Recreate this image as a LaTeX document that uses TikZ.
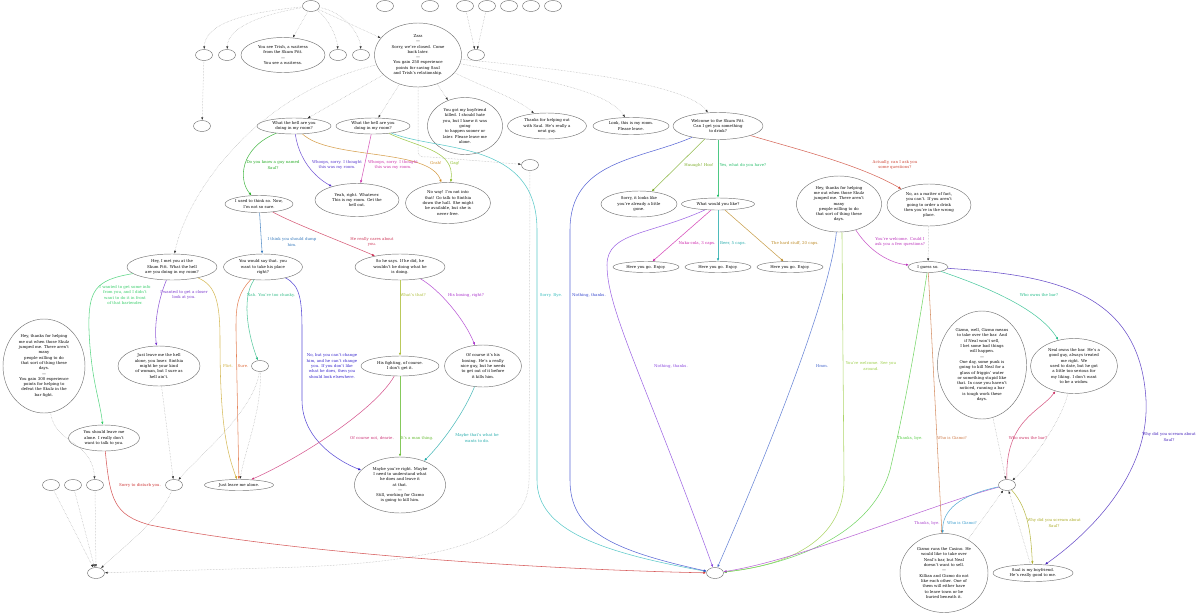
\documentclass[tikz,border=0pt]{standalone}
\usepackage{fontspec}
\setmainfont{DejaVu Serif}
\usetikzlibrary{shapes.geometric,arrows.meta}
\newcommand\nf{\fontsize{3.95}{5.3}\selectfont}
\definecolor{cSaul}{HTML}{22AA22}
\definecolor{cWhA}{HTML}{5533CC}
\definecolor{cWhB}{HTML}{CC33AA}
\definecolor{cGrah}{HTML}{CC8822}
\definecolor{cGag}{HTML}{88BB22}
\definecolor{cBye}{HTML}{33BBBB}
\definecolor{cNoth}{HTML}{3344CC}
\definecolor{cHuu}{HTML}{77AA22}
\definecolor{cYes}{HTML}{22BB66}
\definecolor{cAct}{HTML}{CC4433}
\definecolor{cNuka}{HTML}{CC22AA}
\definecolor{cBeer}{HTML}{22AAAA}
\definecolor{cHard}{HTML}{BB8822}
\definecolor{cNothP}{HTML}{8844DD}
\definecolor{cHmm}{HTML}{4466CC}
\definecolor{cWelc}{HTML}{99CC44}
\definecolor{cCould}{HTML}{BB33BB}
\definecolor{cTbG}{HTML}{55CC44}
\definecolor{cGizB}{HTML}{CC7744}
\definecolor{cOwnT}{HTML}{22BB88}
\definecolor{cScrI}{HTML}{4422BB}
\definecolor{cTbP}{HTML}{AA44CC}
\definecolor{cGizL}{HTML}{3399CC}
\definecolor{cScrO}{HTML}{AAAA22}
\definecolor{cOwnC}{HTML}{CC3366}
\definecolor{cDump}{HTML}{3377BB}
\definecolor{cCare}{HTML}{CC3355}
\definecolor{cChunk}{HTML}{33BB88}
\definecolor{cSure}{HTML}{DD6633}
\definecolor{cNoBut}{HTML}{3322CC}
\definecolor{cInfo}{HTML}{33CC66}
\definecolor{cClose}{HTML}{7733CC}
\definecolor{cFlirt}{HTML}{CCAA33}
\definecolor{cWhat}{HTML}{AABB33}
\definecolor{cBox}{HTML}{AA33CC}
\definecolor{cDear}{HTML}{CC3377}
\definecolor{cMan}{HTML}{66BB33}
\definecolor{cMaybe}{HTML}{22AAAA}
\definecolor{cDist}{HTML}{CC3333}
\begin{document}
\begin{tikzpicture}[x=1pt,y=-1pt,
  st/.style={ellipse,draw=black!55,line width=0.45pt,inner sep=0pt,align=center,font=\nf},
  sm/.style={st,minimum width=17pt,minimum height=11pt},
  dt/.style={draw=black!30,densely dotted,line width=0.5pt,-{Latex[length=3pt,width=2.2pt,color=black!80]}},
  ed/.style={draw=#1!80,line width=0.55pt,-{Latex[length=3pt,width=2.4pt,color=#1]}},
  lb/.style={font=\nf,align=center,inner sep=0pt}]
\useasboundingbox (0,0) rectangle (1200,614);
% top row
\node[sm] (top) at (311,6) {};
\node[sm] (t2) at (385,6) {};
\node[sm] (t3) at (430,6) {};
\node[sm] (t4) at (465,6) {};
\node[sm] (t5) at (487,6) {};
\node[sm] (t6) at (509,6) {};
\node[sm] (t7) at (531,6) {};
\node[sm] (t8) at (553,6) {};
% row 55
\node[sm] (s1) at (204,55) {};
\node[sm] (s2) at (227,55) {};
\node[st,minimum width=84pt,minimum height=35pt] (trish) at (283,55) {You see Trish, a waitress\\from the Skum Pitt.\\—\\You see a waitress.};
\node[sm] (s3) at (338,55) {};
\node[sm] (s4) at (361,55) {};
\node[st,minimum width=87pt,minimum height=64pt] (zzzz) at (418,55) {Zzzz\\—\\Sorry, we're closed. Come\\back later.\\—\\You gain 250 experience\\points for saving Saul\\and Trish's relationship.};
\node[sm] (s6) at (476,55) {};
\node[sm] (s5) at (202,126) {};
% row 126
\node[st,minimum width=74pt,minimum height=16pt] (wh1) at (294,126) {What the hell are you\\doing in my room?};
\node[st,minimum width=74pt,minimum height=16pt] (wh2) at (373,126) {What the hell are you\\doing in my room?};
\node[st,minimum width=75pt,minimum height=57pt] (got) at (465,126) {You got my boyfriend\\killed. I should hate\\you, but I knew it was\\going\\to happen sooner or\\later. Please leave me\\alone.};
\node[st,minimum width=79pt,minimum height=26pt] (thx) at (547,126) {Thanks for helping out\\with Saul. He's really a\\neat guy.};
\node[st,minimum width=76pt,minimum height=17pt] (look) at (631,126) {Look, this is my room.\\Please leave.};
\node[st,minimum width=90pt,minimum height=27pt] (welcome) at (718,126) {Welcome to the Skum Pitt.\\Can I get you something\\to drink?};
\node[sm] (s7) at (530,165) {};
% row 204
\node[st,minimum width=68pt,minimum height=17pt] (used) at (259,204) {I used to think so. Now,\\I'm not so sure.};
\node[st,minimum width=84pt,minimum height=33pt] (yeah) at (357,200) {Yeah, right. Whatever.\\This is my room. Get the\\hell out.};
\node[st,minimum width=85pt,minimum height=41pt] (noway) at (448,203) {No way! I'm not into\\that! Go talk to Sinthia\\down the hall. She might\\be available, but she is\\never free.};
\node[st,minimum width=76pt,minimum height=26pt] (gone) at (639,204) {Sorry, it looks like\\you're already a little\\gone.};
\node[st,minimum width=73pt,minimum height=12pt] (wwyl) at (718,204) {What would you like?};
\node[st,minimum width=85pt,minimum height=56pt] (heyR) at (839,204) {Hey, thanks for helping\\me out when those Skulz\\jumped me. There aren't\\many\\people willing to do\\that sort of thing these\\days.};
\node[st,minimum width=84pt,minimum height=42pt] (nomatter) at (929,205) {No, as a matter of fact,\\you can't. If you aren't\\going to order a drink\\then you're in the wrong\\place.};
% row 267
\node[st,minimum width=90pt,minimum height=26pt] (hey) at (172,267) {Hey, I met you at the\\Skum Pitt. What the hell\\are you doing in my room?};
\node[st,minimum width=79pt,minimum height=26pt] (wys) at (263,267) {You would say that. you\\want to take his place\\right?};
\node[st,minimum width=90pt,minimum height=26pt] (sohe) at (400,267) {So he says. If he did, he\\wouldn't be doing what he\\is doing.};
\node[st,minimum width=66pt,minimum height=11pt] (here1) at (646,267) {Here you go. Enjoy.};
\node[st,minimum width=66pt,minimum height=11pt] (here2) at (718,267) {Here you go. Enjoy.};
\node[st,minimum width=66pt,minimum height=11pt] (here3) at (790,267) {Here you go. Enjoy.};
\node[st,minimum width=40pt,minimum height=11pt] (guess) at (928,267) {I guess so.};
% row 366
\node[st,minimum width=82pt,minimum height=94pt] (heyL) at (44,366) {Hey, thanks for helping\\me out when those Skulz\\jumped me. There aren't\\many\\people willing to do\\that sort of thing these\\days.\\—\\You gain 300 experience\\points for helping to\\defeat the Skulz in the\\bar fight.};
\node[st,minimum width=82pt,minimum height=40pt] (hellalone) at (159,366) {Just leave me the hell\\alone, you loser. Sinthia\\might be your kind\\of woman, but I sure as\\hell ain't.};
\node[sm] (s8) at (260,366) {};
\node[st,minimum width=78pt,minimum height=20pt] (hisfight) at (400,366) {His fighting, of course.\\I don't get it.};
\node[st,minimum width=77pt,minimum height=42pt] (ofcourse) at (483,366) {Of course it's his\\boxing. He's a really\\nice guy, but he needs\\to get out of it before\\it kills him.};
\node[st,minimum width=89pt,minimum height=108pt] (gizwell) at (982,365) {Gizmo, well, Gizmo means\\to take over the bar. And\\if Neal won't sell,\\I bet some bad things\\will happen.\\—\\One day, some punk is\\going to kill Neal for a\\glass of friggin' water\\or something stupid like\\that. In case you haven't\\noticed, running a bar\\is tough work these\\days.};
\node[st,minimum width=87pt,minimum height=55pt] (neal) at (1074,366) {Neal owns the bar. He's a\\good guy, always treated\\me right. We\\used to date, but he got\\a little too serious for\\my liking. I don't want\\to be a widow.};
% row 438-485
\node[st,minimum width=71pt,minimum height=26pt] (shouldleave) at (104,438) {You should leave me\\alone. I really don't\\want to talk to you.};
\node[sm] (b1) at (51,485) {};
\node[sm] (b2) at (73,485) {};
\node[sm] (b3) at (95,485) {};
\node[sm] (b4) at (174,485) {};
\node[st,minimum width=69pt,minimum height=11pt] (jla) at (239,485) {Just leave me alone.};
\node[st,minimum width=91pt,minimum height=56pt] (maybe) at (400,485) {Maybe you're right. Maybe\\I need to understand what\\he does and leave it\\at that.\\—\\Still, working for Gizmo\\is going to kill him.};
\node[sm] (s9) at (1007,485) {};
% bottom
\node[sm] (bl) at (96,573) {};
\node[sm] (endn) at (715,573) {};
\node[st,minimum width=88pt,minimum height=79pt] (gizruns) at (944,573) {Gizmo runs the Casino. He\\would like to take over\\Neal's bar, but Neal\\doesn't want to sell.\\—\\Killian and Gizmo do not\\like each other. One of\\them will either have\\to leave town or be\\buried beneath it.};
\node[st,minimum width=80pt,minimum height=17pt] (saul) at (1033,573) {Saul is my boyfriend.\\He's really good to me.};

% dotted edges
\draw[dt] (top) .. controls (250,12) and (205,22) .. (s1);
\draw[dt] (top) .. controls (265,14) and (228,26) .. (s2);
\draw[dt] (top) -- (trish);
\draw[dt] (top) .. controls (326,16) and (337,35) .. (s3);
\draw[dt] (top) .. controls (345,12) and (360,35) .. (s4);
\draw[dt] (top) -- (zzzz);
\draw[dt] (s1) -- (s5);
\draw[dt] (t4) -- (s6);
\draw[dt] (t5) -- (s6);
\draw[dt] (zzzz) .. controls (250,95) and (185,200) .. (hey);
\draw[dt] (zzzz) -- (wh1);
\draw[dt] (zzzz) -- (wh2);
\draw[dt] (zzzz) -- (got);
\draw[dt] (zzzz) .. controls (490,90) and (520,100) .. (thx);
\draw[dt] (zzzz) .. controls (530,78) and (605,88) .. (look);
\draw[dt] (zzzz) .. controls (550,68) and (685,82) .. (welcome);
\draw[dt] (zzzz) -- (418,145) .. controls (418,157) .. (430,157) -- (s7);
\draw[dt] (s7) -- (529,480) .. controls (529,545) and (420,562) .. (300,567) -- (bl);
\draw[dt] (heyL) .. controls (55,445) and (92,440) .. (b3);
\draw[dt] (b1) -- (bl);
\draw[dt] (b2) -- (bl);
\draw[dt] (b3) -- (bl);
\draw[dt] (hellalone) -- (b4);
\draw[dt] (b4) .. controls (160,520) and (120,550) .. (bl);
\draw[dt] (s8) .. controls (255,410) and (200,455) .. (b4);
\draw[dt] (s8) .. controls (262,410) and (245,450) .. (jla);
\draw[dt] (nomatter) -- (guess);
\draw[dt] (gizwell) -- (s9);
\draw[dt] (neal) .. controls (1062,420) and (1030,465) .. (s9);
\draw[dt] (gizruns) -- (s9);
\draw[dt] (saul) -- (s9);

% colored edges
\draw[ed=cSaul] (wh1) .. controls (240,148) and (238,180) .. (used);
\node[lb,text=cSaul] (l1) at (273,165) {Do you know a guy named\\Saul?};
\draw[ed=cWhA] (wh1) .. controls (300,165) and (320,180) .. (yeah);
\node[lb,text=cWhA] (l2) at (337,165) {Whoops, sorry. I thought\\this was my room.};
\draw[ed=cGrah] (wh1) .. controls (330,160) and (430,148) .. (noway);
\node[lb,text=cGrah] (l3) at (436,163) {Grah!};
\draw[ed=cWhB] (wh2) -- (yeah);
\node[lb,text=cWhB] (l4) at (393,165) {Whoops, sorry. I thought\\this was my room.};
\draw[ed=cGag] (wh2) .. controls (420,148) and (455,150) .. (noway);
\node[lb,text=cGag] (l5) at (455,163) {Gag!};
\draw[ed=cBye] (wh2) .. controls (440,152) and (537,140) .. (537,230) -- (537,480) .. controls (537,530) and (600,552) .. (endn);
\node[lb,text=cBye] (l6) at (551,295) {Sorry. Bye.};
\draw[ed=cNoth] (welcome) .. controls (640,160) and (570,160) .. (570,230) -- (570,480) .. controls (570,530) and (610,550) .. (endn);
\node[lb,text=cNoth] (l7) at (589,295) {Nothing, thanks.};
\draw[ed=cHuu] (welcome) -- (gone);
\node[lb,text=cHuu] (l8) at (699,165) {Huuugh! Hoo!};
\draw[ed=cYes] (welcome) -- (wwyl);
\node[lb,text=cYes] (l9) at (743,165) {Yes, what do you have?};
\draw[ed=cAct] (welcome) .. controls (800,150) and (860,165) .. (nomatter);
\node[lb,text=cAct] (l10) at (895,165) {Actually, can I ask you\\some questions?};
\draw[ed=cNuka] (wwyl) -- (here1);
\node[lb,text=cNuka] (l11) at (697,243) {Nuka-cola, 3 caps.};
\draw[ed=cBeer] (wwyl) -- (here2);
\node[lb,text=cBeer] (l12) at (733,243) {Beer, 5 caps.};
\draw[ed=cHard] (wwyl) -- (here3);
\node[lb,text=cHard] (l13) at (795,243) {The hard stuff, 20 caps.};
\draw[ed=cNothP] (wwyl) .. controls (650,235) and (607,232) .. (607,265) .. controls (607,310) and (645,380) .. (endn);
\node[lb,text=cNothP] (l14) at (671,366) {Nothing, thanks.};
\draw[ed=cHmm] (heyR) .. controls (830,300) and (760,470) .. (endn);
\node[lb,text=cHmm] (l15) at (822,366) {Hmm.};
\draw[ed=cWelc] (heyR.-84) -- (844,480) .. controls (844,540) and (790,565) .. (endn);
\node[lb,text=cWelc] (l16) at (871,366) {You're welcome. See you\\around.};
\draw[ed=cCould] (heyR) .. controls (870,252) and (890,263) .. (guess);
\node[lb,text=cCould] (l17) at (900,242) {You're welcome. Could I\\ask you a few questions?};
\draw[ed=cTbG] (guess) .. controls (915,350) and (902,420) .. (890,470) .. controls (870,540) and (780,566) .. (endn);
\node[lb,text=cTbG] (l18) at (910,438) {Thanks, bye.};
\draw[ed=cGizB] (guess) -- (gizruns);
\node[lb,text=cGizB] (l19) at (952,438) {Who is Gizmo?};
\draw[ed=cOwnT] (guess) .. controls (990,288) and (1040,310) .. (neal);
\node[lb,text=cOwnT] (l20) at (1039,295) {Who owns the bar?};
\draw[ed=cScrI] (guess) .. controls (1050,275) and (1140,290) .. (1146,400) .. controls (1150,480) and (1080,540) .. (saul);
\node[lb,text=cScrI] (l21) at (1169,437) {Why did you scream about\\Saul?};
\draw[ed=cTbP] (s9) .. controls (930,505) and (800,560) .. (endn);
\node[lb,text=cTbP] (l22) at (927,523) {Thanks, bye.};
\draw[ed=cGizL] (s9) .. controls (960,495) and (942,510) .. (gizruns);
\node[lb,text=cGizL] (l23) at (962,523) {Who is Gizmo?};
\draw[ed=cScrO] (s9) .. controls (1030,510) and (1031,540) .. (saul);
\node[lb,text=cScrO] (l24) at (1054,523) {Why did you scream about\\Saul?};
\draw[ed=cOwnC] (s9) .. controls (1005,420) and (1040,412) .. (neal);
\node[lb,text=cOwnC] (l25) at (1028,438) {Who owns the bar?};
\draw[ed=cDump] (used) -- (wys);
\node[lb,text=cDump] (l26) at (292,242) {I think you should dump\\him.};
\draw[ed=cCare] (used) .. controls (290,222) and (350,245) .. (sohe);
\node[lb,text=cCare] (l27) at (372,242) {He really cares about\\you.};
\draw[ed=cChunk] (wys) .. controls (240,300) and (250,340) .. (s8);
\node[lb,text=cChunk] (l28) at (271,295) {Nah. You're too chunky.};
\draw[ed=cSure] (wys) .. controls (236,295) and (236,310) .. (236,330) -- (jla);
\node[lb,text=cSure] (l29) at (243,366) {Sure.};
\draw[ed=cNoBut] (wys) .. controls (300,285) and (302,300) .. (302,330) -- (302,400) .. controls (302,440) and (340,462) .. (maybe);
\node[lb,text=cNoBut] (l30) at (332,366) {No, but you can't change\\him, and he can't change\\you. If you don't like\\what he does, then you\\should look elsewhere.};
\draw[ed=cInfo] (hey) .. controls (95,280) and (88,290) .. (89,330) .. controls (91,380) and (100,400) .. (shouldleave);
\node[lb,text=cInfo] (l31) at (125,295) {I wanted to get some info\\from you, and I didn't\\want to do it in front\\of that bartender.};
\draw[ed=cClose] (hey) .. controls (158,300) and (154,325) .. (hellalone);
\node[lb,text=cClose] (l32) at (184,295) {I wanted to get a closer\\look at you.};
\draw[ed=cFlirt] (hey) .. controls (215,285) and (220,300) .. (220,340) .. controls (220,420) and (226,450) .. (jla);
\node[lb,text=cFlirt] (l33) at (228,366) {Flirt.};
\draw[ed=cWhat] (sohe) -- (hisfight);
\node[lb,text=cWhat] (l34) at (413,295) {What's that?};
\draw[ed=cBox] (sohe) .. controls (440,290) and (465,320) .. (ofcourse);
\node[lb,text=cBox] (l35) at (466,295) {His boxing, right?};
\draw[ed=cDear] (hisfight) .. controls (375,410) and (300,458) .. (jla);
\node[lb,text=cDear] (l36) at (372,438) {Of course not, dearie.};
\draw[ed=cMan] (hisfight) -- (maybe);
\node[lb,text=cMan] (l37) at (417,438) {It's a man thing.};
\draw[ed=cMaybe] (ofcourse) .. controls (465,410) and (445,440) .. (maybe);
\node[lb,text=cMaybe] (l38) at (477,438) {Maybe that's what he\\wants to do.};
\draw[ed=cDist] (shouldleave) .. controls (110,500) and (114,515) .. (150,525) .. controls (300,555) and (560,570) .. (endn);
\node[lb,text=cDist] (l39) at (140,485) {Sorry to disturb you.};
\end{tikzpicture}
\end{document}
